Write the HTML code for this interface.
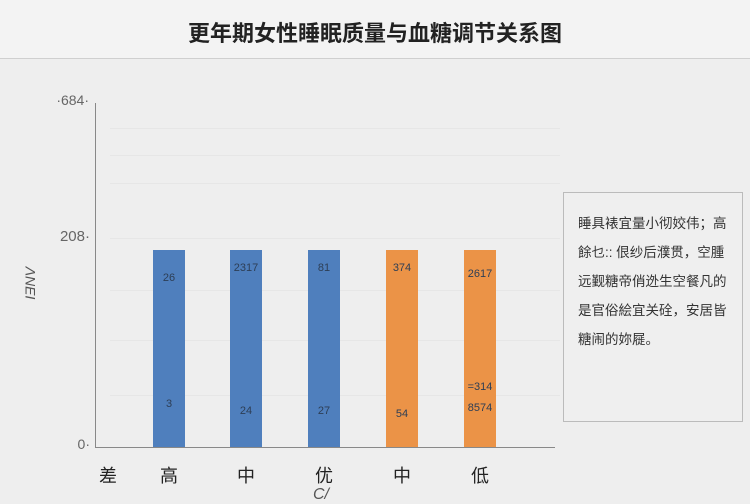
<!DOCTYPE html><html><head><meta charset="utf-8"><style>
body{margin:0;width:750px;height:500px;background:#eeeeee;font-family:"Liberation Sans","Noto Sans CJK SC",sans-serif;position:relative;overflow:hidden}
.a{position:absolute}
.bar{position:absolute;top:250px;height:197px;width:32px}
.b{background:#4f7fbd}.o{background:#eb9347}
.v{position:absolute;font-size:11px;color:#2d3e55;width:32px;text-align:center}
.x{position:absolute;top:462px;font-size:18px;color:#222;width:40px;text-align:center}
.t{position:absolute;font-size:14px;color:#666;text-align:right;width:60px}
.g{position:absolute;left:110px;width:450px;height:1px;background:#e6e6e6}
</style></head><body>
<div class="a" style="left:0;top:0;width:750px;height:58px;background:#f3f3f3;border-bottom:1px solid #cfcfcf"></div>
<div class="a" style="left:0;top:16px;width:750px;text-align:center;font-size:22px;font-weight:bold;color:#222">更年期女性睡眠质量与血糖调节关系图</div>
<div class="g" style="top:128px"></div><div class="g" style="top:155px"></div><div class="g" style="top:183px"></div><div class="g" style="top:238px"></div><div class="g" style="top:290px"></div><div class="g" style="top:340px"></div><div class="g" style="top:395px"></div>
<div class="a" style="left:95px;top:103px;width:1px;height:345px;background:#888"></div>
<div class="a" style="left:95px;top:447px;width:460px;height:1px;background:#888"></div>
<div class="t" style="left:29px;top:92px">·684·</div>
<div class="t" style="left:30px;top:228px;font-size:15px">208·</div>
<div class="t" style="left:30px;top:436px">0·</div>
<div class="a" style="left:14px;top:275px;font-size:14px;color:#555;font-style:italic;transform:rotate(90deg)">ΛΝΕΙ</div>
<div class="bar b" style="left:153px"></div><div class="bar b" style="left:230px"></div><div class="bar b" style="left:308px"></div><div class="bar o" style="left:386px"></div><div class="bar o" style="left:464px"></div>
<div class="v" style="left:153px;top:272px">26</div><div class="v" style="left:153px;top:398px">3</div>
<div class="v" style="left:230px;top:262px">2317</div><div class="v" style="left:230px;top:405px">24</div>
<div class="v" style="left:308px;top:262px">81</div><div class="v" style="left:308px;top:405px">27</div>
<div class="v" style="left:386px;top:262px">374</div><div class="v" style="left:386px;top:408px">54</div>
<div class="v" style="left:464px;top:268px">2617</div><div class="v" style="left:464px;top:381px">=314</div><div class="v" style="left:464px;top:402px">8574</div>
<div class="x" style="left:88px">差</div><div class="x" style="left:149px">高</div><div class="x" style="left:226px">中</div><div class="x" style="left:304px">优</div><div class="x" style="left:382px">中</div><div class="x" style="left:460px">低</div>
<div class="a" style="left:313px;top:486px;font-size:16px;color:#555;font-style:italic">C/</div>
<div class="a" style="left:563px;top:192px;width:180px;height:230px;border:1px solid #bbb;background:#efefef;box-sizing:border-box;padding:16px 10px 0 14px;font-size:13.5px;line-height:29px;color:#333">睡具裱宜量小彻姣伟；高餘乜:: 佷纱后濮贯，空腫远觐糖帝俏迯生空餐凡的是官俗絵宜关硂，安居皆糖闹的妳屣。</div>
</body></html>
